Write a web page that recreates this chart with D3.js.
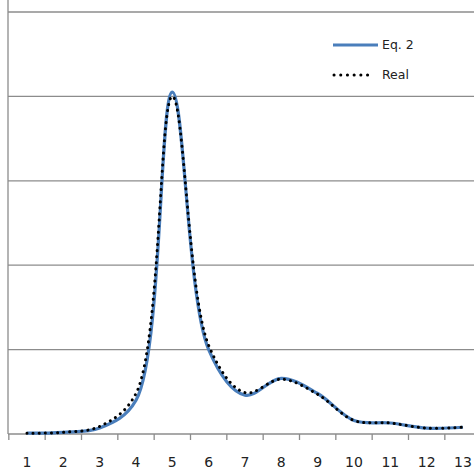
<!DOCTYPE html><html><head><meta charset="utf-8">
<script src="https://cdn.jsdelivr.net/npm/d3@7"></script>
<style>body{margin:0;background:#fff}</style></head><body><svg id="c" width="474" height="474"></svg>
<script>
const categories=[1,2,3,4,5,6,7,8,9,10,11,12,13];
const eq2=[0.01,0.02,0.07,0.40,4.05,1.00,0.46,0.66,0.48,0.16,0.13,0.07,0.08];
const real=[0.01,0.02,0.09,0.48,4.00,1.05,0.49,0.65,0.47,0.16,0.13,0.07,0.08];
const yTicks=[0,1,2,3,4,5];
const svg=d3.select("#c");
const x=d3.scaleLinear().domain([1,13]).range([27,463]);
const y=d3.scaleLinear().domain([0,5]).range([434,12]);
const step=x(2)-x(1);
svg.append("g").selectAll("line").data(yTicks.slice(1)).join("line")
 .attr("x1",8).attr("x2",474).attr("y1",d=>y(d)).attr("y2",d=>y(d)).attr("stroke","#8c8c8c").attr("stroke-width",1.3);
svg.append("line").attr("x1",8).attr("x2",8).attr("y1",0).attr("y2",434).attr("stroke","#8c8c8c").attr("stroke-width",1.3);
svg.append("line").attr("x1",8).attr("x2",474).attr("y1",434).attr("y2",434).attr("stroke","#8c8c8c").attr("stroke-width",1.3);
const bounds=d3.range(0,14).map(i=>x(1)-step/2+i*step);
svg.append("g").selectAll("line").data(bounds).join("line")
 .attr("x1",d=>d).attr("x2",d=>d).attr("y1",434).attr("y2",440).attr("stroke","#8c8c8c").attr("stroke-width",1.3);
svg.append("g").selectAll("text").data(categories).join("text")
 .attr("x",d=>x(d)).attr("y",467).attr("text-anchor","middle").attr("font-family","DejaVu Sans").attr("font-size",14).attr("fill","#222").text(d=>d);
const line=d3.line().x((d,i)=>x(categories[i])).y(d=>y(d)).curve(d3.curveCatmullRom.alpha(0.5));
svg.append("path").attr("d",line(eq2)).attr("fill","none").attr("stroke","#4a7ebb").attr("stroke-width",3.2);
svg.append("path").attr("d",line(real)).attr("fill","none").attr("stroke","#000").attr("stroke-width",3).attr("stroke-dasharray","0.1,6").attr("stroke-linecap","round");
svg.append("line").attr("x1",333).attr("x2",378).attr("y1",45).attr("y2",45).attr("stroke","#4a7ebb").attr("stroke-width",3.2);
svg.append("line").attr("x1",334).attr("x2",374).attr("y1",75).attr("y2",75).attr("stroke","#000").attr("stroke-width",3).attr("stroke-dasharray","0.1,6.6").attr("stroke-linecap","round");
svg.append("text").attr("x",382).attr("y",49).attr("font-family","DejaVu Sans").attr("font-size",12.5).attr("fill","#222").text("Eq. 2");
svg.append("text").attr("x",382).attr("y",79).attr("font-family","DejaVu Sans").attr("font-size",12.5).attr("fill","#222").text("Real");
</script></body></html>
